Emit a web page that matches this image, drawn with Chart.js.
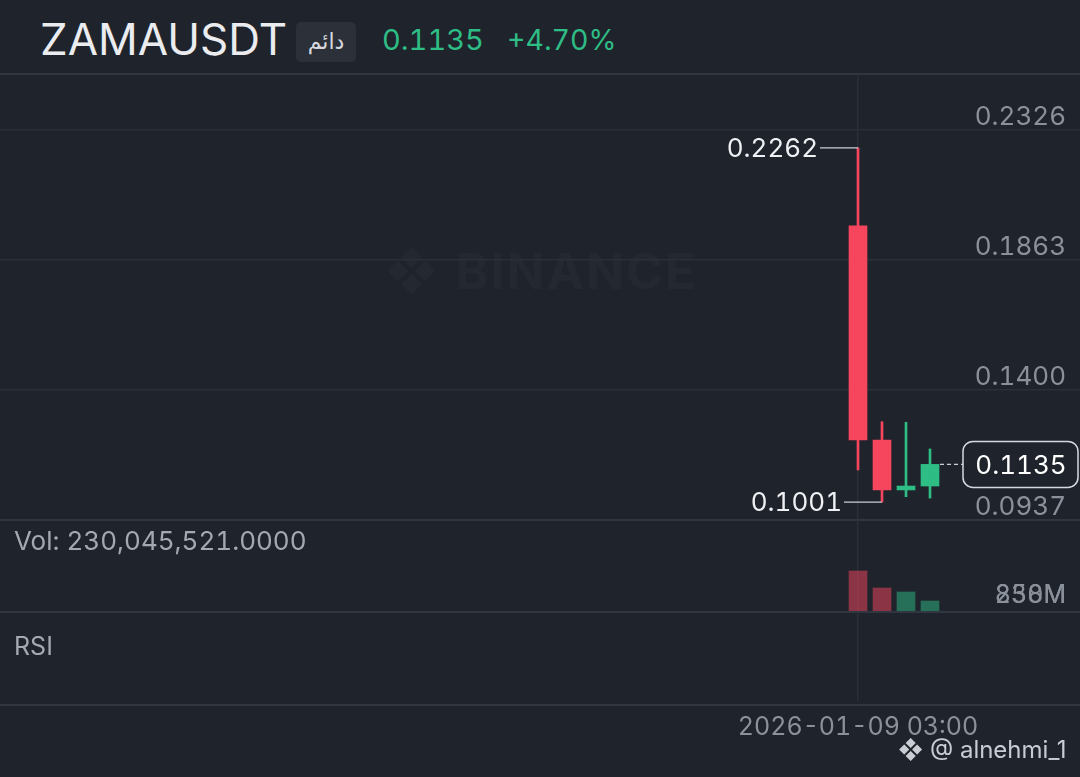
<!DOCTYPE html>
<html>
<head>
<meta charset="utf-8">
<script src="https://cdn.jsdelivr.net/npm/chart.js@4.4.1/dist/chart.umd.min.js"></script>
<style>
  body { margin: 0; width: 1080px; height: 777px; background: #1f232c; overflow: hidden; position: relative; font-family: Inter, "Noto Sans", sans-serif; font-variant-numeric: tabular-nums; }
  .abs { position: absolute; white-space: nowrap; }
  .pane { position: absolute; left: 0; width: 1080px; }
  .sep { position: absolute; left: 0; width: 1080px; height: 2px; background: #313741; }
  #sym { left: 40px; top: 17px; font-size: 44px; line-height: 44px; color: #eaecef; font-variant-numeric: normal; }
  #tag { left: 296px; top: 22px; width: 60px; height: 40px; border-radius: 5px; background: #2b3039; color: #d6d9de; font-size: 22px; line-height: 40px; text-align: center; font-family: "DejaVu Sans", sans-serif; }
  #last { left: 382px; top: 24px; font-size: 29px; line-height: 32px; color: #2ebd85; }
  #chg { left: 507px; top: 24px; font-size: 28.5px; line-height: 32px; color: #2ebd85; }
  #vol { left: 14px; top: 527px; font-size: 26px; line-height: 28px; color: #a3a9b2; }
  #rsi { left: 14px; top: 632px; font-size: 25px; line-height: 28px; color: #a3a9b2; }
  #wm { left: 385px; top: 244px; font-size: 50px; line-height: 54px; font-weight: 700; color: rgba(255,255,255,0.025); letter-spacing: 2px; }
  #user { left: 898px; top: 736px; font-size: 24px; line-height: 28px; color: #c9cdd3; font-variant-numeric: normal; }
</style>
</head>
<body>
<div class="abs" id="sym">ZAMAUSDT</div>
<div class="abs" id="tag">دائم</div>
<div class="abs" id="last">0.1135</div>
<div class="abs" id="chg">+4.70%</div>
<div class="sep" style="top:73px"></div>

<div class="abs" id="wm">&#10070; BINANCE</div>

<div class="pane" style="top:74px;height:446px"><canvas id="priceChart"></canvas></div>
<div class="sep" style="top:519px"></div>
<div class="pane" style="top:520px;height:92px"><canvas id="volChart"></canvas></div>
<div class="sep" style="top:611px"></div>
<div class="pane" style="top:612px;height:141px"><canvas id="rsiChart"></canvas></div>
<div class="sep" style="top:704px"></div>

<div class="abs" id="vol">Vol: 230,045,521.0000</div>
<div class="abs" id="rsi">RSI</div>
<div class="abs" id="user">&#10070; @ alnehmi_1</div>

<script>
const TIMES = ['2026-01-09 03:00', '2026-01-09 04:00', '2026-01-09 05:00', '2026-01-09 06:00'];
const OPEN = [0.1984, 0.1222, 0.1044, 0.1058];
const HIGH = [0.2262, 0.1287, 0.1285, 0.1190];
const LOW = [0.1115, 0.1001, 0.1020, 0.1015];
const CLOSE = [0.1222, 0.1044, 0.1058, 0.1135];
const VOLUME = [858000000, 502000000, 419000000, 230045521];
const PRICE_TICKS = [0.0937, 0.1400, 0.1863, 0.2326];
const VOL_LABELS = ['858M', '230M'];

const UP = '#2ebd85';
const DOWN = '#f6465d';
const UP_VOL = 'rgba(46,189,133,0.5)';
const DOWN_VOL = 'rgba(246,70,93,0.5)';
const GRID = '#2a2f38';
const TICK = '#8b919a';
const BG = '#1f232c';
const FONT = 'Inter';

const X_MIN = -35.75, X_MAX = 9.25;

const isUp = i => CLOSE[i] >= OPEN[i];
const candleColors = TIMES.map((t, i) => isUp(i) ? UP : DOWN);
const volColors = TIMES.map((t, i) => isUp(i) ? UP_VOL : DOWN_VOL);

// numbers drawn with equal-width digits, like the app's font
function drawNum(ctx, text, x, y, align) {
    const chars = [...text];
    const dw = ctx.measureText('0').width;
    const ws = chars.map(c => /[0-9]/.test(c) ? dw : ctx.measureText(c).width);
    const total = ws.reduce((a, b) => a + b, 0);
    let cx = align === 'right' ? x - total : align === 'center' ? x - total / 2 : x;
    ctx.textAlign = 'center';
    chars.forEach((c, i) => {
        ctx.fillText(c, cx + ws[i] / 2, y);
        cx += ws[i];
    });
}

function xAxis(showLabels) {
    return {
        type: 'linear',
        min: X_MIN,
        max: X_MAX,
        offset: false,
        afterBuildTicks: scale => { scale.ticks = [{ value: 0 }]; },
        grid: { color: GRID, lineWidth: 1.5, drawTicks: false, offset: false },
        border: { display: false },
        ticks: {
            display: showLabels,
            padding: 11,
            color: TICK,
            font: { family: FONT, size: 25 },
            maxRotation: 0,
            callback: v => TIMES[v]
        }
    };
}

// price axis labels, high / low markers and last price box
const priceMarks = {
    id: 'priceMarks',
    afterDatasetsDraw(chart) {
        const { ctx, scales: { x, y }, chartArea } = chart;
        ctx.save();
        ctx.font = '26px ' + FONT;
        ctx.textBaseline = 'middle';
        ctx.fillStyle = TICK;
        PRICE_TICKS.forEach(v => drawNum(ctx, v.toFixed(4), chartArea.right - 14, y.getPixelForValue(v) - 13, 'right'));

        const hi = Math.max(...HIGH), hiIdx = HIGH.indexOf(hi);
        const lo = Math.min(...LOW), loIdx = LOW.indexOf(lo);
        ctx.fillStyle = '#eef0f3';
        ctx.strokeStyle = '#c9ced6';
        ctx.lineWidth = 1.2;
        [[hi, hiIdx], [lo, loIdx]].forEach(([v, i]) => {
            const px = x.getPixelForValue(i), py = y.getPixelForValue(v);
            ctx.beginPath();
            ctx.moveTo(px - 38, py);
            ctx.lineTo(px, py);
            ctx.stroke();
            drawNum(ctx, v.toFixed(4), px - 40, py + 1, 'right');
        });

        const n = CLOSE.length - 1;
        const lastY = y.getPixelForValue(CLOSE[n]);
        const boxL = chartArea.right - 117;
        ctx.setLineDash([4, 3]);
        ctx.beginPath();
        ctx.moveTo(x.getPixelForValue(n) + 10, lastY);
        ctx.lineTo(boxL, lastY);
        ctx.stroke();
        ctx.setLineDash([]);
        ctx.beginPath();
        ctx.roundRect(boxL, lastY - 23, 115, 46, 10);
        ctx.fillStyle = BG;
        ctx.fill();
        ctx.strokeStyle = '#d5d9df';
        ctx.lineWidth = 1.5;
        ctx.stroke();
        ctx.fillStyle = '#ffffff';
        drawNum(ctx, CLOSE[n].toFixed(4), boxL + 58, lastY + 2, 'center');
        ctx.restore();
    }
};

new Chart(document.getElementById('priceChart'), {
    type: 'bar',
    data: {
        datasets: [
            {
                label: 'wick',
                data: TIMES.map((t, i) => ({ x: i, y: [LOW[i], HIGH[i]] })),
                backgroundColor: candleColors,
                barThickness: 2,
                grouped: false
            },
            {
                label: 'body',
                data: TIMES.map((t, i) => ({ x: i, y: [OPEN[i], CLOSE[i]] })),
                backgroundColor: candleColors,
                barThickness: 18,
                minBarLength: 3,
                grouped: false
            }
        ]
    },
    options: {
        responsive: true,
        maintainAspectRatio: false,
        animation: false,
        layout: { padding: 0 },
        plugins: { legend: { display: false }, tooltip: { enabled: false } },
        scales: {
            x: xAxis(false),
            y: {
                position: 'right',
                min: 0.0937,
                max: 0.2525,
                afterBuildTicks: scale => { scale.ticks = PRICE_TICKS.map(v => ({ value: v })); },
                grid: { color: GRID, lineWidth: 1.5, drawTicks: false },
                border: { display: false },
                ticks: { display: false }
            }
        }
    },
    plugins: [priceMarks]
});

const volLabels = {
    id: 'volLabels',
    afterDatasetsDraw(chart) {
        const { ctx, chartArea } = chart;
        ctx.save();
        ctx.font = '25px ' + FONT;
        ctx.fillStyle = TICK;
        ctx.textBaseline = 'middle';
        VOL_LABELS.forEach(l => drawNum(ctx, l, chartArea.right - 14, chartArea.bottom - 17, 'right'));
        ctx.restore();
    }
};

new Chart(document.getElementById('volChart'), {
    type: 'bar',
    data: {
        datasets: [{
            label: 'Vol',
            data: TIMES.map((t, i) => ({ x: i, y: VOLUME[i] })),
            backgroundColor: volColors,
            barThickness: 18
        }]
    },
    options: {
        responsive: true,
        maintainAspectRatio: false,
        animation: false,
        layout: { padding: 0 },
        plugins: { legend: { display: false }, tooltip: { enabled: false } },
        scales: {
            x: xAxis(false),
            y: { display: false, min: 0, max: 1925000000 }
        }
    },
    plugins: [volLabels]
});

new Chart(document.getElementById('rsiChart'), {
    type: 'line',
    data: { datasets: [{ label: 'RSI', data: [], borderColor: '#b9a14f' }] },
    options: {
        responsive: true,
        maintainAspectRatio: false,
        animation: false,
        layout: { padding: 0 },
        plugins: { legend: { display: false }, tooltip: { enabled: false } },
        scales: {
            x: xAxis(true),
            y: { display: false, min: 0, max: 100 }
        }
    }
});
</script>
</body>
</html>
